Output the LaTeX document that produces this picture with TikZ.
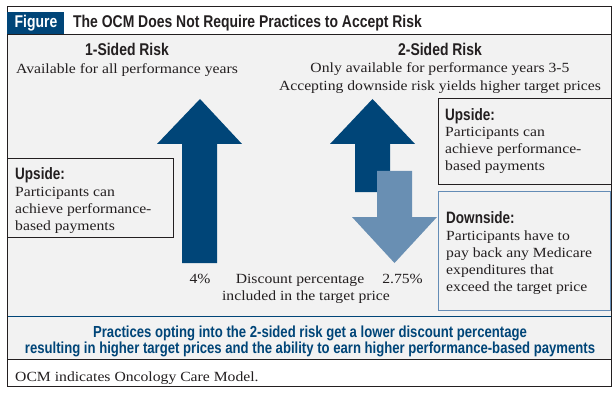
\documentclass[tikz,border=0pt]{standalone}
\usepackage{fontspec}
\setmainfont[FakeStretch=1.12]{Liberation Serif}
\newfontfamily\hsans[FakeStretch=0.82]{Liberation Sans}
\definecolor{navy}{RGB}{0,69,120}
\definecolor{lightnavy}{RGB}{105,143,179}
\definecolor{boxblue}{RGB}{100,140,182}
\definecolor{panel}{RGB}{242,242,242}
\definecolor{ink}{RGB}{35,31,32}
\tikzset{
  body/.style={font=\fontsize{14}{17}\selectfont, text=ink, inner sep=0pt, align=left},
  bodyc/.style={font=\fontsize{14}{17}\selectfont, text=ink, inner sep=0pt},
  heading/.style={font=\hsans\bfseries\fontsize{17}{20}\selectfont, text=ink, inner sep=0pt},
  band/.style={font=\hsans\bfseries\fontsize{16}{16}\selectfont, text=navy, inner sep=0pt},
  infobox/.style={draw=ink, line width=0.8pt, fill=panel, inner sep=0pt},
}
\newcommand{\hd}[1]{{\hsans\bfseries\fontsize{16.5}{17}\selectfont #1}}
\begin{document}
\begin{tikzpicture}[x=1pt,y=-1pt]
\useasboundingbox (0,0) rectangle (616,393);
\fill[white] (0,0) rectangle (616,393);
% panels
\fill[panel] (7,34) rectangle (611,359);
\draw[ink, line width=0.8pt] (7,34) -- (611,34);
\draw[navy, line width=1.1pt] (7,316.5) -- (611,316.5);
\draw[ink, line width=0.8pt] (7,359) -- (611,359);
\draw[ink, line width=0.9pt] (7,6) rectangle (611,386);
% title
\node[fill=navy, minimum width=57pt, minimum height=22pt, inner sep=0pt, anchor=north west] (figbox) at (7,12) {};
\node[heading, text=white, anchor=base] (figlbl) at (36,27.5) {Figure};
\node[heading, anchor=base west] (title) at (73,27.5) {The OCM Does Not Require Practices to Accept Risk};
% column headings
\node[heading, anchor=base] (one) at (127,56) {1-Sided Risk};
\node[bodyc, anchor=base] (onesub) at (127,74) {Available for all performance years};
\node[heading, anchor=base] (two) at (440,56) {2-Sided Risk};
\node[bodyc, anchor=base] (twosub) at (440,73) {Only available for performance years 3-5};
\node[bodyc, anchor=base] (twosubb) at (440,91) {Accepting downside risk yields higher target prices};
% boxes
\draw[infobox] (7,158) rectangle (173,237);
\node[body, anchor=base west] (upL) at (15,230) {\hd{Upside:}\\Participants can\\achieve performance-\\based payments};
\draw[infobox] (438,98) rectangle (611,184);
\node[body, anchor=base west] (upR) at (445,171) {\hd{Upside:}\\Participants can\\achieve performance-\\based payments};
\draw[draw=boxblue, line width=0.8pt, fill=panel] (438,191) rectangle (610.5,310);
\node[body, anchor=base west] (downR) at (446,291) {\hd{Downside:}\\Participants have to\\pay back any Medicare\\expenditures that\\exceed the target price};
% arrows
\fill[navy] (182,263) -- (182,144) -- (157,144) -- (200,99) -- (242,144) -- (217,144) -- (217,263) -- cycle;
\fill[navy] (355,192) -- (355,144) -- (330,144) -- (372.5,99) -- (415,144) -- (390,144) -- (390,192) -- cycle;
\fill[lightnavy] (377,171) -- (412,171) -- (412,217) -- (437,217) -- (394.5,263) -- (352,217) -- (377,217) -- cycle;
% discount labels
\node[bodyc, anchor=base] (four) at (200,283) {4\%};
\node[bodyc, anchor=base] (disc) at (300,283) {Discount percentage};
\node[bodyc, anchor=base] (twoseven) at (402.5,283) {2.75\%};
\node[bodyc, anchor=base] (disc2) at (306,300) {included in the target price};
% band
\node[band, anchor=base] (bandA) at (310,337) {Practices opting into the 2-sided risk get a lower discount percentage};
\node[band, anchor=base] (bandB) at (310,353) {resulting in higher target prices and the ability to earn higher performance-based payments};
% footnote
\node[bodyc, anchor=base west] (note) at (15,381) {OCM indicates Oncology Care Model.};
\end{tikzpicture}
\end{document}
